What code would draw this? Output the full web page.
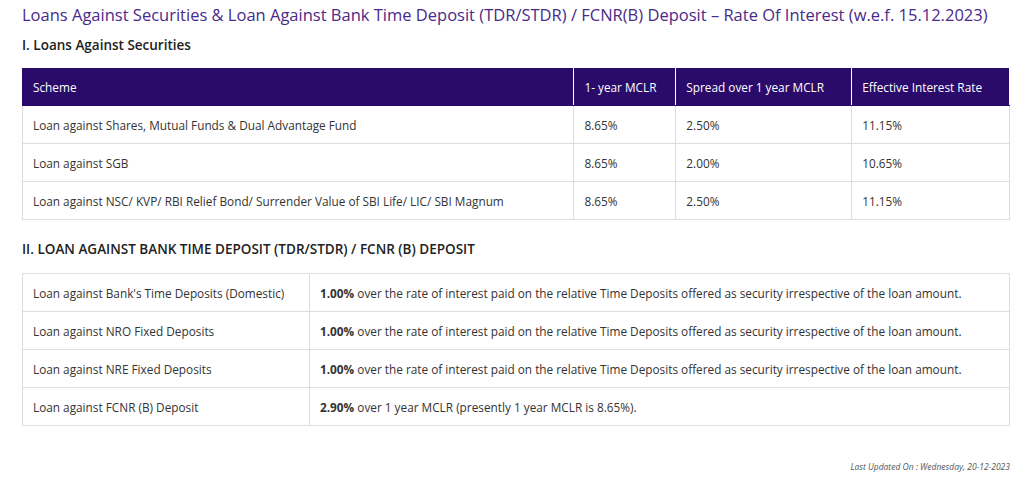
<!DOCTYPE html>
<html><head><meta charset="utf-8">
<script src="https://cdn.jsdelivr.net/npm/chart.js"></script>
<style>
body{margin:0;width:1024px;height:483px;font-family:"Open Sans",sans-serif;color:#333;background:#fff;position:relative;overflow:hidden}
h1{position:absolute;left:22px;top:3px;margin:0;font-size:16.5px;font-weight:400;color:#4a2a8a;white-space:nowrap}
h2{position:absolute;left:22px;margin:0;font-size:13.5px;font-weight:600;color:#222}
table{position:absolute;left:22px;width:988px;border-collapse:collapse;font-size:11.8px}
td,th{border:1px solid #ddd;padding:0 10px;text-align:left;font-weight:400;white-space:nowrap}
th{background:#2a0b6b;color:#fff;border-color:#2a0b6b;height:36px;border-right:1px solid #fff}
td{height:37px}
#foot{position:absolute;right:14px;top:461px;font-size:8.5px;font-style:italic;color:#555}
</style></head><body>
<h1 id="title"></h1>
<h2 style="top:36px">I. Loans Against Securities</h2>
<table id="t1" style="top:68px"></table>
<h2 style="top:240px">II. LOAN AGAINST BANK TIME DEPOSIT (TDR/STDR) / FCNR (B) DEPOSIT</h2>
<table id="t2" style="top:273px"></table>
<div id="foot">Last Updated On : Wednesday, 20-12-2023</div>
<script>
const titleText="Loans Against Securities & Loan Against Bank Time Deposit (TDR/STDR) / FCNR(B) Deposit – Rate Of Interest (w.e.f. 15.12.2023)";
const headers=["Scheme","1- year MCLR","Spread over 1 year MCLR","Effective Interest Rate"];
const schemes=["Loan against Shares, Mutual Funds & Dual Advantage Fund","Loan against SGB","Loan against NSC/ KVP/ RBI Relief Bond/ Surrender Value of SBI Life/ LIC/ SBI Magnum"];
const mclr=["8.65%","8.65%","8.65%"];
const spread=["2.50%","2.00%","2.50%"];
const effective=["11.15%","10.65%","11.15%"];
const depLabels=["Loan against Bank's Time Deposits (Domestic)","Loan against NRO Fixed Deposits","Loan against NRE Fixed Deposits","Loan against FCNR (B) Deposit"];
const depRates=["1.00%","1.00%","1.00%","2.90%"];
const depText=[" over the rate of interest paid on the relative Time Deposits offered as security irrespective of the loan amount."," over the rate of interest paid on the relative Time Deposits offered as security irrespective of the loan amount."," over the rate of interest paid on the relative Time Deposits offered as security irrespective of the loan amount."," over 1 year MCLR (presently 1 year MCLR is 8.65%)."];
document.getElementById('title').textContent=titleText;
const widths=[552,102,176,158];
let h='<tr>'+headers.map((x,i)=>`<th style="width:${widths[i]-21}px">${x}</th>`).join('')+'</tr>';
schemes.forEach((s,i)=>{h+=`<tr><td>${s}</td><td>${mclr[i]}</td><td>${spread[i]}</td><td>${effective[i]}</td></tr>`});
document.getElementById('t1').innerHTML=h;
let h2='';
depLabels.forEach((s,i)=>{h2+=`<tr><td style="width:266px">${s}</td><td><b style="font-weight:700">${depRates[i]}</b>${depText[i]}</td></tr>`});
document.getElementById('t2').innerHTML=h2;
</script></body></html>
